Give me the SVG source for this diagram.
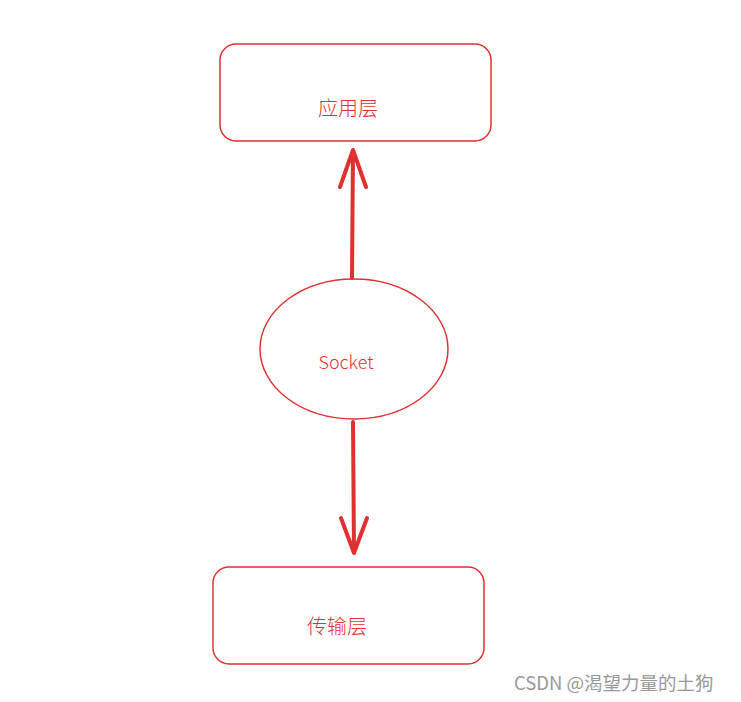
<svg xmlns="http://www.w3.org/2000/svg" width="741" height="702" viewBox="0 0 741 702">
<style>
.box{fill:none;stroke:#e03131;stroke-width:1.5}
.t{font-family:"Noto Sans CJK SC","Noto Sans",sans-serif;font-size:20px;fill:#e03131;text-anchor:middle;font-weight:300}
.c{stroke:#e03131;stroke-width:4;fill:none;stroke-linecap:round;stroke-linejoin:round}
.w{font-family:"Noto Sans CJK SC","Liberation Sans",sans-serif;font-size:18.5px;fill:#999}
</style>
<rect width="741" height="702" fill="#fff"/>
<g id="app"><rect class="box" x="220" y="44" width="271" height="97" rx="16"/><text class="t" x="348" y="116">应用层</text></g>
<g id="socket"><ellipse class="box" cx="354" cy="349" rx="94" ry="70"/><text class="t" x="346" y="369" style="font-size:18px">Socket</text></g>
<g id="trans"><rect class="box" x="213" y="567" width="271" height="97" rx="16"/><text class="t" x="337" y="634">传输层</text></g>
<g id="connectors">
<path class="c" d="M352 278 L353 150 M340 187 L353 150 L366 187"/>
<path class="c" d="M353 422 L354 553 M341 518 L354 553 L367 518"/>
</g>
<text class="w" x="514" y="690">CSDN @渴望力量的土狗</text>
</svg>
